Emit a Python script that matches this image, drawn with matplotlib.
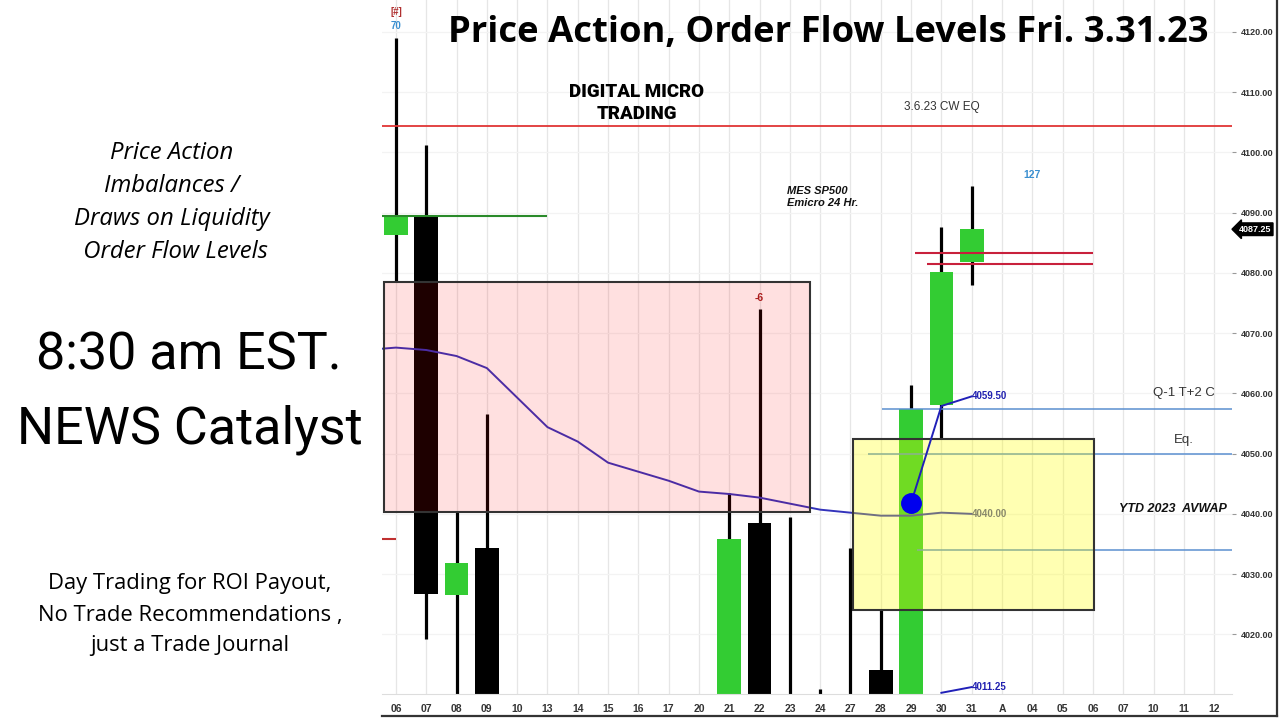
import matplotlib.pyplot as plt
import matplotlib.transforms as mtransforms
from matplotlib.lines import Line2D
from matplotlib.patches import Rectangle

# session labels on the x axis (Mar 6 -> Apr 12)
day_labels = ["06", "07", "08", "09", "10", "13", "14", "15", "16", "17",
              "20", "21", "22", "23", "24", "27", "28", "29", "30", "31",
              "A", "04", "05", "06", "07", "10", "11", "12"]

# daily candles that reach into the visible price window
candle_pos = [0, 1, 2, 3, 11, 12, 13, 14, 15, 16, 17, 18, 19]
opens = [4086.3, 4089.5, 4026.6, 4034.4, 4000.0, 4038.5, 4005.0, 4004.0, 4006.0, 4014.1, 4000.0, 4058.1, 4081.8]
highs = [4119.0, 4101.2, 4040.3, 4056.6, 4043.5, 4074.0, 4039.5, 4011.0, 4034.4, 4024.1, 4061.4, 4087.6, 4094.4]
lows = [4078.5, 4019.3, 4000.0, 3995.0, 3995.0, 3995.0, 3995.0, 3995.0, 3995.0, 3995.0, 3995.0, 4052.6, 4078.0]
closes = [4089.5, 4026.7, 4031.9, 4000.0, 4035.9, 4000.0, 4003.0, 4003.0, 4004.0, 4005.0, 4057.4, 4080.2, 4087.25]

# YTD 2023 anchored vwap
vwap_x = [-0.5, 0, 1, 2, 3, 4, 5, 6, 7, 8, 9, 10, 11, 12, 13, 14, 15, 16, 17, 18, 19]
vwap_y = [4067.4, 4067.6, 4067.2, 4066.2, 4064.2, 4059.3, 4054.4, 4052.0, 4048.5, 4047.0,
          4045.5, 4043.7, 4043.3, 4042.7, 4041.7, 4040.7, 4040.2, 4039.7, 4039.7, 4040.2, 4040.0]

# vwap anchored at the 3/29 news low, and a second one off the lows
avwap_x = [17, 18, 19]
avwap_y = [4041.8, 4057.9, 4059.5]
low_vwap_x = [18, 19]
low_vwap_y = [4010.3, 4011.25]

# levels: (price, start, end)
cw_eq = 4104.4
green_level = (4089.5, -0.45, 5.0)
red_levels = [(4083.3, 17.13, 23.0), (4081.5, 17.52, 23.0)]
left_red = (4035.9, -0.5, 0.0)
blue_levels = [(4057.4, 16.04), (4050.0, 15.58), (4034.0, 17.2)]

# imbalance zones: (x0, x1, low, high)
pink_zone = (-0.4, 13.66, 4040.3, 4078.5)
yellow_zone = (15.08, 23.04, 4024.1, 4052.45)

last_price = 4087.25
price_ticks = [4020, 4030, 4040, 4050, 4060, 4070, 4080, 4090, 4100, 4110, 4120]

GREEN = "#33cc33"
CHART_FONT = ["Liberation Sans", "DejaVu Sans"]

fig = plt.figure(figsize=(12.8, 7.2), dpi=100)
ax = fig.add_axes([382 / 1280, 26 / 720, 850 / 1280, 694 / 720])
ax.set_xlim(-0.46, 27.59)
ax.set_ylim(4010.1, 4125.3)

# grid
for i in range(len(day_labels)):
    ax.axvline(i, color="#e6e6e6", lw=0.9, zorder=0)
for p in price_ticks:
    ax.axhline(p, color="#f3f3f3", lw=0.9, zorder=0)

# candles
for x, o, h, l, c in zip(candle_pos, opens, highs, lows, closes):
    ax.vlines(x, l, h, color="black", lw=2.3, zorder=2)
    color = GREEN if c >= o else "black"
    ax.bar(x, abs(c - o), bottom=min(o, c), width=0.78, color=color, zorder=2)

# lines under the zones
ax.plot(vwap_x, vwap_y, color="#3333bb", lw=1.4, zorder=3)
ax.text(19.0, 4040.0, "4040.00", color="#555599", fontsize=7, fontweight="bold",
        family=CHART_FONT, va="center", ha="left", zorder=3)
for price, start in blue_levels:
    ax.hlines(price, start, 27.59, color="#5b8fd0", lw=1.1, zorder=3)

# zones
x0, x1, lo, hi = pink_zone
ax.add_patch(Rectangle((x0, lo), x1 - x0, hi - lo, facecolor=(1, 0, 0, 0.12),
                       edgecolor="#333333", lw=1.5, zorder=4))
x0, x1, lo, hi = yellow_zone
ax.add_patch(Rectangle((x0, lo), x1 - x0, hi - lo, facecolor=(1, 1, 0, 0.3),
                       edgecolor="#333333", lw=1.5, zorder=4))

# levels above the zones
ax.axhline(cw_eq, color="#e03535", lw=1.3, zorder=5)
price, start, end = green_level
ax.hlines(price, start, end, color="#2a8a2a", lw=1.5, zorder=5)
for price, start, end in red_levels:
    ax.hlines(price, start, end, color="#c8203c", lw=1.5, zorder=5)
price, start, end = left_red
ax.hlines(price, start, end, color="#c03030", lw=1.5, zorder=5)

ax.plot(avwap_x, avwap_y, color="#2020b8", lw=1.4, zorder=5)
ax.plot(avwap_x[0], avwap_y[0], "o", color="#0000ee", ms=14, zorder=6)
ax.text(avwap_x[-1], avwap_y[-1], "4059.50", color="#2020b0", fontsize=7,
        fontweight="bold", family=CHART_FONT, va="center", ha="left", zorder=6)
ax.plot(low_vwap_x, low_vwap_y, color="#2020b8", lw=1.4, zorder=5)
ax.text(low_vwap_x[-1], low_vwap_y[-1], "4011.25", color="#2020b0", fontsize=7,
        fontweight="bold", family=CHART_FONT, va="center", ha="left", zorder=6)

# chart annotations
ax.text(0, 4123.3, "[#]", color="#b03030", fontsize=7, fontweight="bold",
        family=CHART_FONT, ha="center", va="center")
ax.text(0, 4121.0, "70", color="#3a8fd0", fontsize=7, fontweight="bold",
        family=CHART_FONT, ha="center", va="center")
ax.text(21.0, 4096.3, "127", color="#3a8fd0", fontsize=7.5, fontweight="bold",
        family=CHART_FONT, ha="center", va="center")
ax.text(12.0, 4075.9, "-6", color="#a02020", fontsize=7.5, fontweight="bold",
        family=CHART_FONT, ha="center", va="center")
ax.text(18.0, 4107.6, "3.6.23 CW EQ", color="#333333", fontsize=8.5,
        family=CHART_FONT, ha="center", va="center")
ax.text(26.0, 4060.0, "Q-1 T+2 C", color="#333333", fontsize=9.5,
        family=CHART_FONT, ha="center", va="center")
ax.text(26.0, 4052.3, "Eq.", color="#333333", fontsize=9.5,
        family=CHART_FONT, ha="center", va="center")
ax.text(25.64, 4040.8, "YTD 2023  AVWAP", color="#111111", fontsize=9,
        fontweight="bold", fontstyle="italic", family=CHART_FONT,
        ha="center", va="center", zorder=6)
ax.text(12.9, 4092.6, "MES SP500\nEmicro 24 Hr.", color="#111111", fontsize=8,
        fontweight="bold", fontstyle="italic", family=CHART_FONT,
        ha="left", va="center", linespacing=1.25)
ax.text(7.95, 4108.2, "DIGITAL MICRO\nTRADING", color="black", fontsize=13.5,
        fontweight=900, family=["Roboto", "DejaVu Sans"],
        ha="center", va="center", linespacing=1.3)

# last price flag
flag = mtransforms.blended_transform_factory(ax.transAxes, ax.transData)
ax.text(1.008, last_price, "4087.25", transform=flag, color="white", fontsize=6.5,
        fontweight="bold", family=CHART_FONT, ha="left", va="center", zorder=10,
        bbox=dict(boxstyle="larrow,pad=0.2", fc="black", ec="black"), clip_on=False)

# axes styling
ax.set_xticks(range(len(day_labels)), labels=day_labels)
ax.set_yticks(price_ticks, labels=[f"{p:.2f}" for p in price_ticks])
ax.yaxis.tick_right()
ax.tick_params(axis="x", length=0, pad=7, labelsize=7.5, labelcolor="#333333")
ax.tick_params(axis="y", length=3, color="#999999", pad=3, labelsize=6.5, labelcolor="#333333")
for lab in ax.get_xticklabels() + ax.get_yticklabels():
    lab.set_fontweight("bold")
    lab.set_family(CHART_FONT)
for side in ["top", "left", "right"]:
    ax.spines[side].set_visible(False)
ax.spines["bottom"].set_color("#dddddd")

fig.add_artist(Line2D([1277 / 1280, 1277 / 1280], [4 / 720, 1], color="#333333", lw=1.6))
fig.add_artist(Line2D([382 / 1280, 1277 / 1280], [4 / 720, 4 / 720], color="#333333", lw=1.6))

# title and side notes
fig.text(828 / 1280, 1 - 33 / 720, "Price Action, Order Flow Levels Fri. 3.31.23",
         family=["Open Sans", "DejaVu Sans"], fontweight="bold", fontsize=26.2,
         ha="center", va="center")

side_italic = ["Price Action", "Imbalances /", "Draws on Liquidity", " Order Flow Levels"]
for k, line in enumerate(side_italic):
    fig.text(172 / 1280, 1 - (153 + 33 * k) / 720, line, family=["Open Sans", "DejaVu Sans"],
             fontstyle="italic", fontsize=17.2, ha="center", va="center")

fig.text(189 / 1280, 1 - 355 / 720, "8:30 am EST.", family=["Roboto", "DejaVu Sans"],
         fontsize=37.5, ha="center", va="center")
fig.text(190 / 1280, 1 - 430 / 720, "NEWS Catalyst", family=["Roboto", "DejaVu Sans"],
         fontsize=37.5, ha="center", va="center")

side_plain = ["Day Trading for ROI Payout,", "No Trade Recommendations ,", "just a Trade Journal"]
for k, line in enumerate(side_plain):
    fig.text(190 / 1280, 1 - (584 + 31 * k) / 720, line, family=["Open Sans", "DejaVu Sans"],
             fontsize=15.8, ha="center", va="center")

fig.savefig("out.png", dpi=100)
